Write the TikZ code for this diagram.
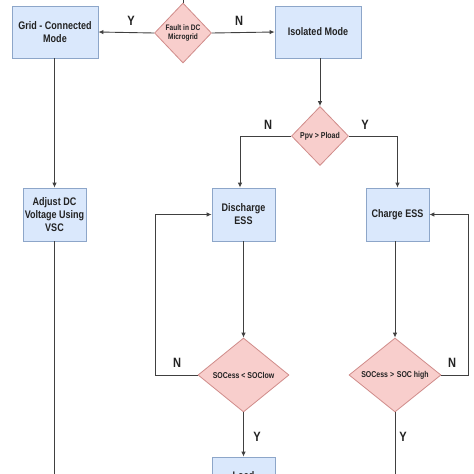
\documentclass[tikz,border=0pt]{standalone}
\usepackage{fontspec}
\setmainfont{Liberation Sans}[FakeStretch=0.82]
\usetikzlibrary{shapes.geometric,arrows.meta}
\definecolor{boxfill}{HTML}{DAE8FC}
\definecolor{boxline}{HTML}{8DA6C9}
\definecolor{diafill}{HTML}{F8CECC}
\definecolor{dialine}{HTML}{D08C8A}
\definecolor{wire}{HTML}{404040}
\definecolor{ink}{HTML}{222222}
\tikzset{
  procbox/.style={draw=boxline, fill=boxfill, line width=0.8pt, minimum width=#1, minimum height=53pt, inner sep=1pt, align=center, font=\bfseries\fontsize{11}{13}\selectfont, text=ink},
  procbox/.default=63pt,
  decide/.style={diamond, aspect=1, draw=dialine, fill=diafill, line width=0.8pt, inner sep=0pt, align=center, text=ink, font=\bfseries\fontsize{8.5}{10}\selectfont},
  wirearrow/.style={draw=wire, line width=0.9pt, -{Latex[length=5pt,width=4.5pt]}},
  wireline/.style={draw=wire, line width=0.9pt},
  yn/.style={font=\bfseries\fontsize{13.5}{14}\selectfont, text=ink, inner sep=0pt}
}
\begin{document}
\begin{tikzpicture}[x=1pt,y=-1pt]
\useasboundingbox (0,0) rectangle (474,474);
\clip (0,0) rectangle (474,474);
\fill[white] (0,0) rectangle (474,474);

% boxes
\node[procbox=86pt, minimum height=52pt] (grid) at (55,32) {Grid - Connected\\Mode};
\node[procbox=86pt, minimum height=52pt] (iso) at (318,32) {Isolated Mode};
\node[procbox] (adj) at (54.5,214.5) {Adjust DC\\Voltage Using\\VSC};
\node[procbox] (dis) at (243.5,214.5) {Discharge\\ESS};
\node[procbox] (chg) at (397.5,214.5) {Charge ESS};
\node[procbox] (load) at (243.5,483.5) {};
\node[font=\bfseries\fontsize{11}{13}\selectfont, text=ink, anchor=north, inner sep=0pt] (loadtxt) at (243.5,471.5) {Load};

% diamonds
\node[decide, minimum width=57pt, minimum height=60pt, aspect=0.95] (fault) at (183,33) {};
\node[font=\bfseries\fontsize{8}{9.5}\selectfont, text=ink, align=center, inner sep=0pt] (faulttxt) at (183,33) {Fault in DC\\Microgrid};
\node[decide, minimum width=57pt, minimum height=59pt] (ppv) at (320,136) {};
\node[font=\bfseries\fontsize{8.5}{10}\selectfont, text=ink, inner sep=0pt] (ppvtxt) at (320,136) {Ppv > Pload};
\node[decide, minimum width=91pt, minimum height=74pt] (low) at (243.5,375) {};
\node[font=\bfseries\fontsize{8.5}{10}\selectfont, text=ink, inner sep=0pt] (lowtxt) at (243.5,375) {SOCess < SOClow};
\node[decide, minimum width=92pt, minimum height=74pt] (high) at (395,375) {};
\node[font=\bfseries\fontsize{8.5}{10}\selectfont, text=ink, inner sep=0pt] (hightxt) at (395,375) {SOCess >\,\,SOC high};

% free ends
\coordinate (topin) at (183,-5);
\coordinate (adjout) at (54.5,480);
\coordinate (highout) at (395,480);
\coordinate (lloop) at (155,375);
\coordinate (rloop) at (468,375);

% connectors
\draw[wireline] (topin) -- (fault.north);
\draw[wirearrow] (fault.west) -- (grid.east);
\draw[wirearrow] (fault.east) -- (iso.west);
\draw[wirearrow] (iso.south -| ppv.north) -- (ppv.north);
\draw[wirearrow] (ppv.west) -| ([xshift=-3.5pt]dis.north);
\draw[wirearrow] (ppv.east) -| (chg.north);
\draw[wirearrow] (grid.south -| adj.north) -- (adj.north);
\draw[wireline] (adj.south) -- (adjout);
\draw[wirearrow] (dis.south) -- (low.north);
\draw[wirearrow] (low.west) -- (lloop) |- (dis.west);
\draw[wirearrow] (low.south) -- (load.north);
\draw[wirearrow] (high.north |- chg.south) -- (high.north);
\draw[wirearrow] (high.east) -- (rloop) |- (chg.east);
\draw[wireline] (high.south) -- (highout);

% labels
\node[yn] (y1) at (131,21) {Y};
\node[yn] (n1) at (239,21) {N};
\node[yn] (n2) at (268,125) {N};
\node[yn] (y2) at (365,125) {Y};
\node[yn] (n3) at (177,363) {N};
\node[yn] (y3) at (257,437) {Y};
\node[yn] (n4) at (452,363) {N};
\node[yn] (y4) at (403,437) {Y};
\end{tikzpicture}
\end{document}
